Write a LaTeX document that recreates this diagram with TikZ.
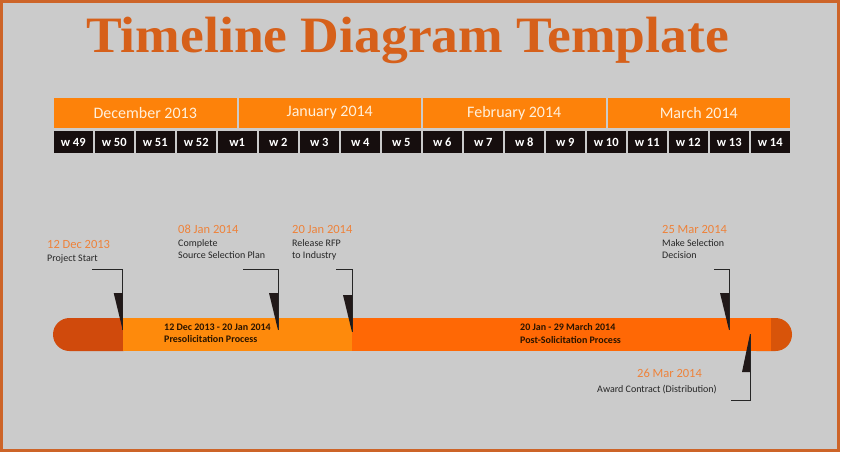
\documentclass[tikz,border=0pt]{standalone}
\usepackage{fontspec}
\setmainfont{Carlito}
\newfontfamily\titlefont{Liberation Serif}
\usetikzlibrary{positioning}

\definecolor{bggray}{RGB}{203,203,203}
\definecolor{frameorange}{RGB}{205,100,40}
\definecolor{titleorange}{RGB}{214,96,26}
\definecolor{monthorange}{RGB}{253,130,10}
\definecolor{monthtext}{RGB}{255,240,220}
\definecolor{weekblack}{RGB}{22,14,14}
\definecolor{capleft}{RGB}{208,74,12}
\definecolor{capright}{RGB}{216,84,10}
\definecolor{prefill}{RGB}{254,138,12}
\definecolor{postfill}{RGB}{255,104,5}
\definecolor{dateorange}{RGB}{238,130,58}
\definecolor{desctext}{RGB}{38,38,38}
\definecolor{bartext}{RGB}{42,20,0}

\begin{document}
\begin{tikzpicture}[x=1pt,y=-1pt]
      \tikzstyle{month} = [fill=monthorange,text=monthtext,minimum width=182.5pt,minimum height=30pt,inner sep=0pt,font=\fontsize{16}{17}\selectfont]
      \tikzstyle{week} = [fill=weekblack,text=white,minimum width=38.5pt,minimum height=22pt,inner sep=0pt,font=\fontsize{12.5}{13}\selectfont\bfseries]
      \tikzstyle{date} = [text=dateorange,anchor=west,inner sep=0pt,font=\fontsize{12.5}{14}\selectfont]
      \tikzstyle{desc} = [text=desctext,anchor=north west,align=left,inner sep=0pt,font=\fontsize{10}{12}\selectfont]
      \tikzstyle{phase} = [text=bartext,anchor=north west,align=left,inner sep=0pt,font=\fontsize{10}{12.5}\selectfont\bfseries]
      \tikzstyle{leader} = [draw=desctext,line width=1pt]
      \tikzstyle{wedge} = [fill=weekblack!90!gray]

      \fill[white] (0,0) rectangle (842,455);
      \draw[frameorange,fill=bggray,line width=3pt] (1.5,1.5) rectangle (838.5,450.5);
      \useasboundingbox (0,0) rectangle (842,455);

      \node[text=titleorange,anchor=base,inner sep=0pt,font=\fontsize{51}{53}\selectfont\titlefont\bfseries] (title) at (407.5,52) {\scalebox{1.05}[1]{Timeline Diagram Template}};

      \def\months{December 2013,January 2014,February 2014,March 2014}
      \foreach \m
      [count=\i from 0,
      evaluate= \i as \x using {54+184.5*\i+91.25}]
      in \months {
        \node[month](m\i) at (\x,113) {\m};
      }

      \def\weeks{w 49,w 50,w 51,w 52,w1,w 2,w 3,w 4,w 5,w 6,w 7,w 8,w 9,w 10,w 11,w 12,w 13,w 14}
      \foreach \w
      [count=\i from 0,
      evaluate= \i as \x using {54+41*\i+19.25}]
      in \weeks {
        \node[week](w\i) at (\x,142) {\w};
      }

      % timeline bar
      \fill[capleft,rounded corners=16.5pt] (53,318) rectangle (140,351);
      \fill[capright,rounded corners=16.5pt] (740,318) rectangle (792,351);
      \fill[prefill] (122.7,318) rectangle (352,351);
      \fill[postfill] (352,318) rectangle (771,351);

      \node[phase] (pre) at (164,323.5) {12 Dec 2013 - 20 Jan 2014\\Presolicitation Process};
      \node[phase] (post) at (520,323.5) {20 Jan - 29 March 2014\\Post-Solicitation Process};

      % milestones
      \foreach \n/\tx/\ty/\hx in {1/122.7/330/92,2/278/330/243,3/352/332/336,4/729/330/714} {
        \coordinate (t\n) at (\tx,\ty);
        \coordinate (h\n) at (\hx,269);
        \draw[leader] (h\n) -| (t\n);
        \fill[wedge] (t\n) -- ++(0,-37) -- ++(-9,0) -- cycle;
      }
      \coordinate (t5) at (750,334);
      \coordinate (h5) at (731,400);
      \draw[leader] (h5) -| (t5);
      \fill[wedge] (t5) -- ++(0,38) -- ++(-8,0) -- cycle;

      \node[date] (d1) at (47,244) {12 Dec 2013};
      \node[desc] (n1) at (47,254.5) {Project Start};
      \node[date] (d2) at (178,229) {08 Jan 2014};
      \node[desc] (n2) at (178,239.5) {Complete\\Source Selection Plan};
      \node[date] (d3) at (292,229) {20 Jan 2014};
      \node[desc] (n3) at (292,239.5) {Release RFP\\to Industry};
      \node[date] (d4) at (662,229) {25 Mar 2014};
      \node[desc] (n4) at (662,239.5) {Make Selection\\Decision};
      \node[date] (d5) at (637,373) {26 Mar 2014};
      \node[desc] (n5) at (597,385) {Award Contract (Distribution)};
    \end{tikzpicture}
\end{document}
